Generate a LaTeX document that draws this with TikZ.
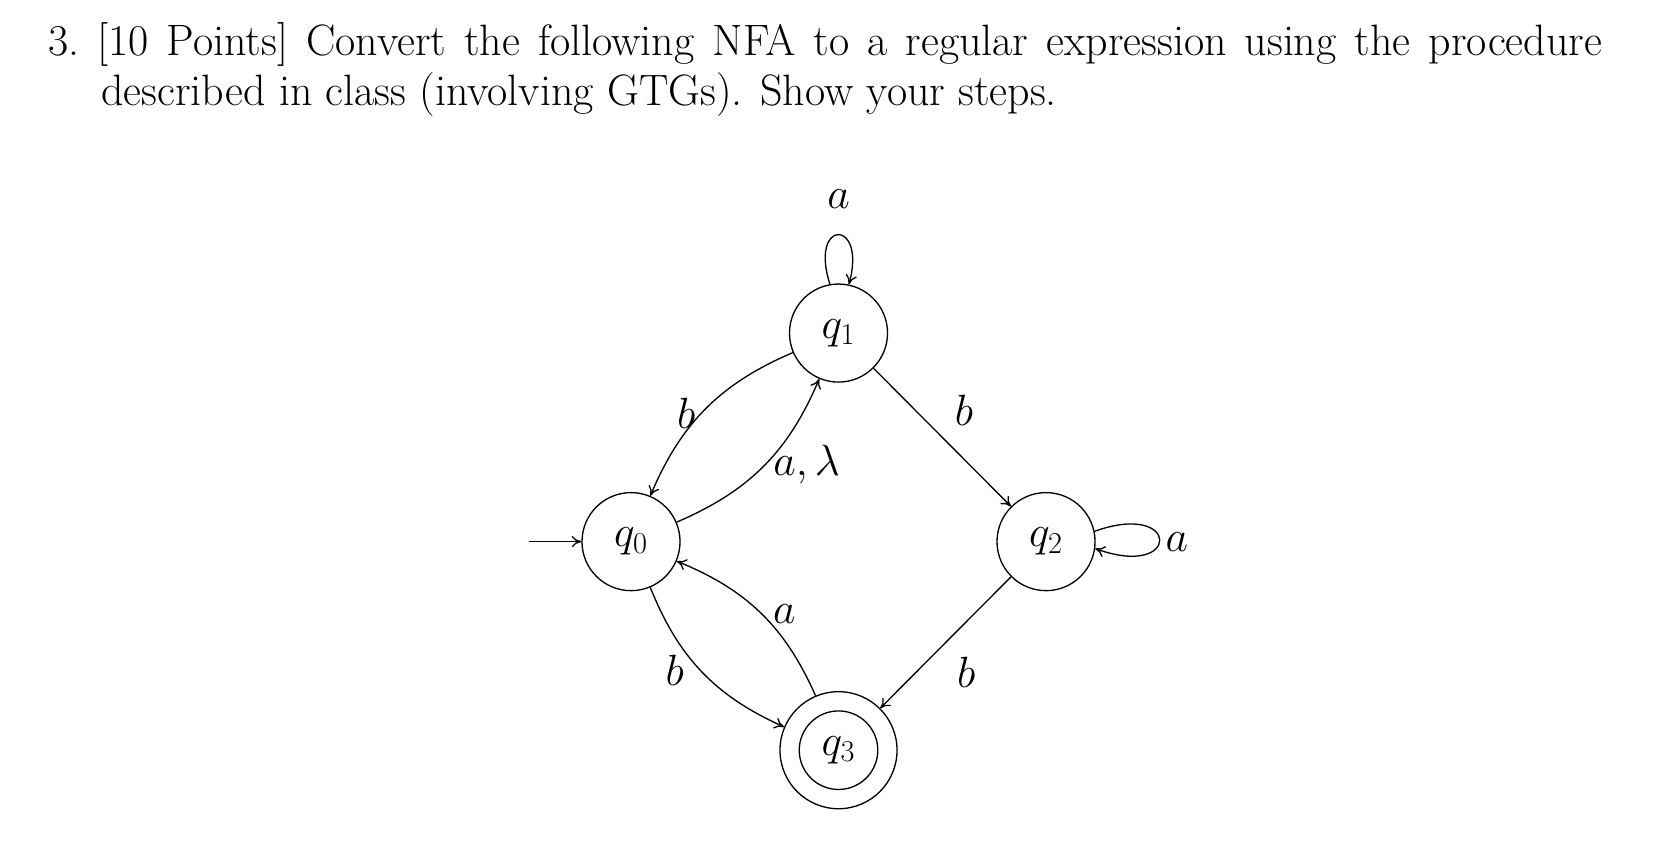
\documentclass[tikz,border=0pt]{standalone}
\usetikzlibrary{arrows.meta}
\begin{document}
\begin{tikzpicture}[x=0.021277cm,y=-0.021277cm,
  every node/.style={font=\fontsize{25}{30}\selectfont},
  st/.style={draw,circle,minimum size=1.96cm,inner sep=0pt,line width=0.75pt},
  ed/.style={->,line width=0.75pt,>={To[length=5.5pt,width=6.5pt]}},
  lab/.style={inner sep=0pt}]
\node[anchor=base west,inner sep=0pt] (l1) at (45,52) {\hbox to 31.06cm{3.\ [10 Points] Convert the following NFA to a regular expression using the procedure}};
\node[anchor=base west,inner sep=0pt] (l2) at (95,99) {described in class (involving GTGs). Show your steps.};
\node[st] (q0) at (593,509) {$q_0$};
\node[st] (q1) at (788,313) {$q_1$};
\node[st] (q2) at (983,509) {$q_2$};
\node[st,minimum size=2.34cm] (q3) at (788,705) {};
\node[st,minimum size=1.57cm] (q3i) at (788,705) {$q_3$};
\coordinate (s) at (497,509);
\draw[ed] (s) -- (q0);
\draw[ed] (q1.100) .. controls (760,205) and (815,205) .. (q1.78);
\node[lab] (la1) at (788,187) {$a$};
\draw[ed] (q1) to[bend right=22] (q0);
\node[lab] (lb1) at (645,388) {$b$};
\draw[ed] (q0) to[bend right=22] (q1);
\node[lab] (lal) at (758,437) {$a,\lambda$};
\draw[ed] (q1) -- (q2);
\node[lab] (lb2) at (906,386) {$b$};
\draw[ed] (q2.12) .. controls (1110,470) and (1110,545) .. (q2.-8);
\node[lab] (la2) at (1106,509) {$a$};
\draw[ed] (q2) -- (q3);
\node[lab] (lb3) at (908,632) {$b$};
\draw[ed] (q0) to[bend right=22] (q3);
\node[lab] (lb4) at (634,630) {$b$};
\draw[ed] (q3) to[bend right=22] (q0);
\node[lab] (la3) at (737,577) {$a$};
\pgfresetboundingbox
\useasboundingbox (0,0) rectangle (1560,793);
\end{tikzpicture}
\end{document}
